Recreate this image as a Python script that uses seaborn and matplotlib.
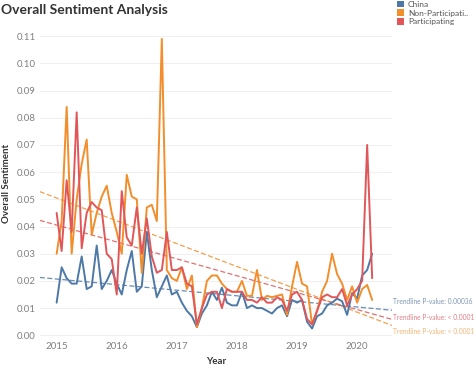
import numpy as np
import pandas as pd
import seaborn as sns
import matplotlib.pyplot as plt
from matplotlib.patches import Patch

# monthly observations, Jan 2015 - Apr 2020
months = pd.date_range("2015-01-01", "2020-04-01", freq="MS")

china = [
    0.012, 0.025, 0.021, 0.019, 0.019, 0.029, 0.017, 0.018, 0.033, 0.017, 0.020, 0.024,
    0.019, 0.015, 0.024, 0.031, 0.016, 0.018, 0.038, 0.024, 0.014, 0.018, 0.022, 0.015,
    0.016, 0.012, 0.009, 0.007, 0.003, 0.008, 0.011, 0.016, 0.013, 0.0175, 0.012, 0.011,
    0.011, 0.016, 0.010, 0.011, 0.010, 0.010, 0.009, 0.008, 0.010, 0.011, 0.007, 0.013,
    0.012, 0.013, 0.005, 0.0025, 0.007, 0.008, 0.011, 0.012, 0.0135, 0.0125, 0.0075, 0.0155,
    0.0135, 0.022, 0.024, 0.030,
]
non_participating = [
    0.030, 0.042, 0.084, 0.030, 0.050, 0.063, 0.072, 0.037, 0.045, 0.051, 0.055, 0.045,
    0.038, 0.030, 0.059, 0.051, 0.050, 0.023, 0.047, 0.048, 0.042, 0.109, 0.024, 0.021,
    0.020, 0.025, 0.017, 0.022, 0.003, 0.010, 0.020, 0.022, 0.022, 0.019, 0.017, 0.016,
    0.016, 0.020, 0.0145, 0.0145, 0.024, 0.013, 0.0145, 0.014, 0.0145, 0.015, 0.0075, 0.018,
    0.027, 0.019, 0.018, 0.004, 0.009, 0.016, 0.020, 0.030, 0.0225, 0.019, 0.013, 0.018,
    0.012, 0.017, 0.0185, 0.013,
]
participating = [
    0.045, 0.031, 0.057, 0.038, 0.082, 0.032, 0.045, 0.049, 0.047, 0.046, 0.030, 0.028,
    0.015, 0.053, 0.036, 0.033, 0.047, 0.030, 0.043, 0.029, 0.023, 0.024, 0.038, 0.024,
    0.024, 0.025, 0.019, 0.018, 0.004, 0.010, 0.015, 0.016, 0.016, 0.010, 0.017, 0.016,
    0.016, 0.016, 0.013, 0.013, 0.012, 0.014, 0.012, 0.012, 0.014, 0.013, 0.009, 0.015,
    0.016, 0.013, 0.006, 0.004, 0.009, 0.014, 0.015, 0.014, 0.014, 0.017, 0.011, 0.015,
    0.017, 0.020, 0.070, 0.021,
]

groups = ["China", "Non-Participati..", "Participating"]
colors = ["#4e79a7", "#f28e2b", "#e15759"]
pvalues = ["Trendline P-value: 0.00036", "Trendline P-value: < 0.0001",
           "Trendline P-value: < 0.0001"]
label_colors = ["#7f97b5", "#e07f86", "#f2b676"]

year = months.year + (months.month - 1) / 12
df = pd.concat([
    pd.DataFrame({"year": year, "sentiment": vals, "group": g})
    for g, vals in zip(groups, [china, non_participating, participating])
])

sns.set_style("white")
plt.rcParams["font.family"] = ["Lato", "DejaVu Sans"]

fig = plt.figure(figsize=(4.74, 3.69), dpi=100)
ax = fig.add_axes([0.084, 0.084, 0.743, 0.84])
ax.set_xlim(2014.72, 2020.58)
ax.set_ylim(-0.001, 0.113)

# trendlines first (drawn under the series)
for g, c in zip(groups, colors):
    sub = df[df["group"] == g]
    sns.regplot(data=sub, x="year", y="sentiment", scatter=False, ci=None,
                truncate=False, ax=ax,
                line_kws={"color": c, "lw": 0.9, "ls": (0, (4, 2)), "alpha": 0.85})

sns.lineplot(data=df, x="year", y="sentiment", hue="group", hue_order=groups,
             palette=colors, lw=1.4, legend=False, ax=ax)

ax.set_xlim(2014.72, 2020.58)
ax.set_ylim(-0.001, 0.113)
ax.set_yticks(np.arange(0, 0.111, 0.01))
ax.set_yticklabels([f"{v:.2f}" for v in np.arange(0, 0.111, 0.01)])
ax.set_xticks([2015, 2016, 2017, 2018, 2019, 2020])
ax.tick_params(labelsize=7, colors="#808080", length=0, pad=3)
ax.grid(axis="y", color="#f0f0f0", lw=0.8)
for s in ax.spines.values():
    s.set_visible(False)

ax.set_xlabel("Year", fontsize=7, fontweight="bold", color="#333333", labelpad=4)
ax.set_ylabel("Overall Sentiment", fontsize=7, fontweight="bold", color="#333333",
              labelpad=4)

fig.text(0.002, 0.972, "Overall Sentiment Analysis", fontsize=10,
         fontweight="bold", color="#333333", va="center", ha="left")

# p-value annotations right of the plot
for txt, c, ypx in zip(pvalues, label_colors, [302, 317, 331]):
    fig.text(393 / 474, 1 - ypx / 369, txt, fontsize=4.8, color=c,
             va="center", ha="left")

handles = [Patch(facecolor=c, edgecolor="none") for c in colors]
fig.legend(handles, groups, loc="upper left", bbox_to_anchor=(0.838, 0.998),
           frameon=False, fontsize=6, handlelength=0.8, handleheight=0.8,
           handletextpad=0.5, labelspacing=0.2, borderaxespad=0, borderpad=0,
           labelcolor="#555555")

fig.savefig("out.png", dpi=100)
